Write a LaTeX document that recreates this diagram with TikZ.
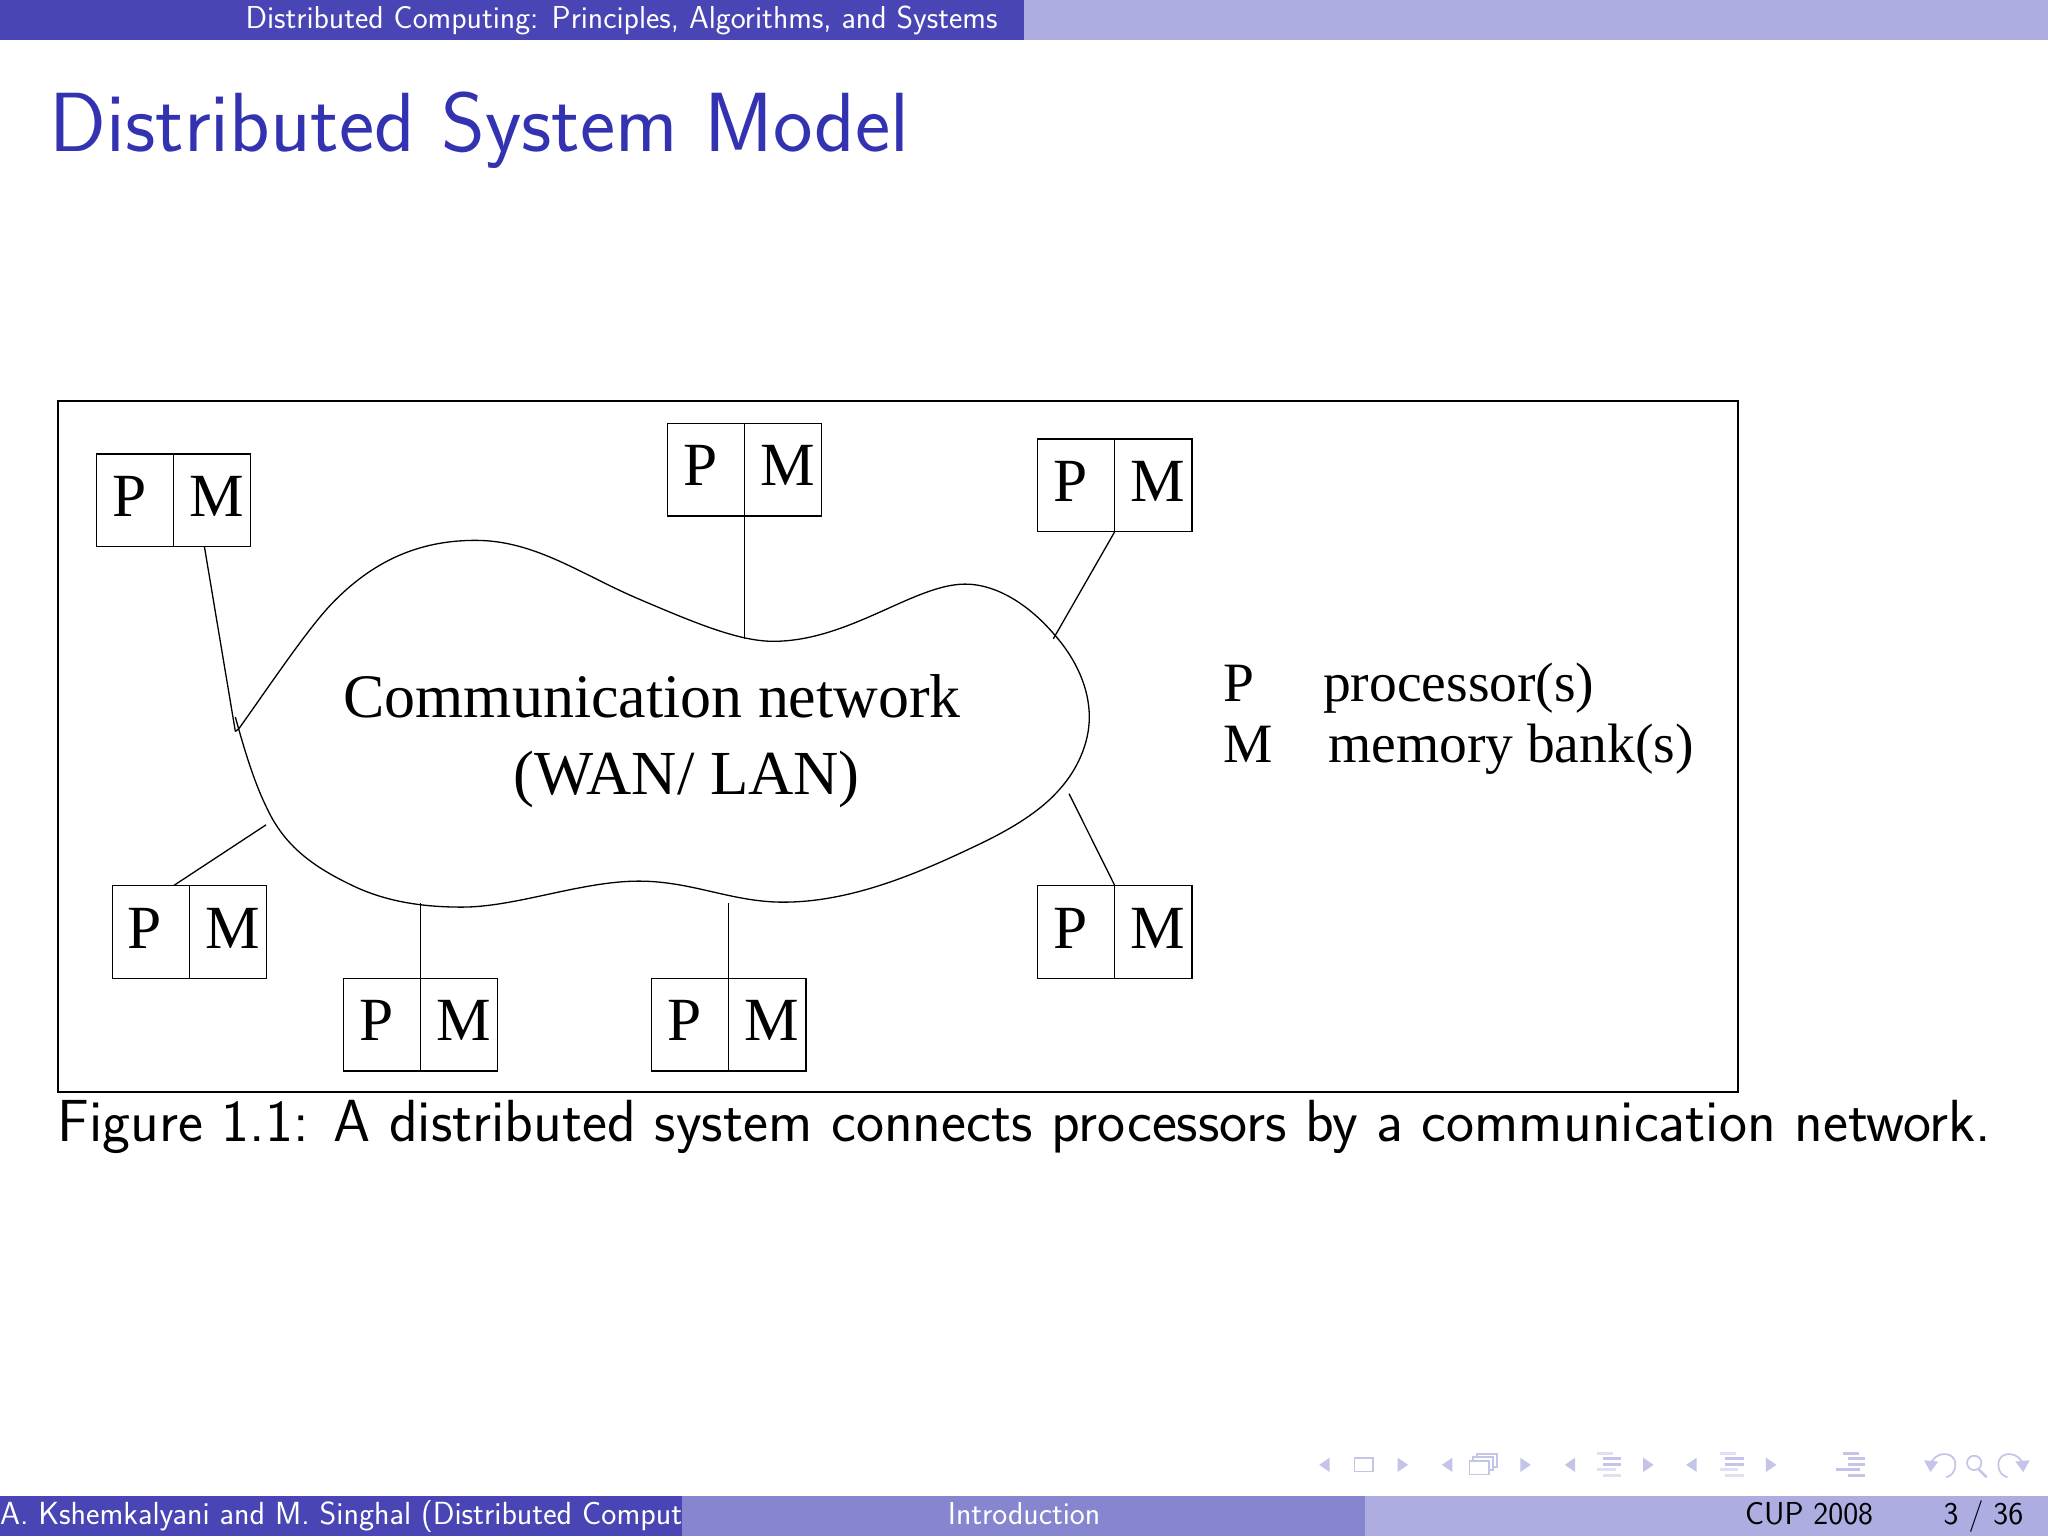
\documentclass[tikz,border=0pt]{standalone}
\usepackage{fontspec}
\setmainfont{Liberation Serif}
\usetikzlibrary{calc}
\definecolor{bardark}{HTML}{4A45B5}
\definecolor{barmid}{HTML}{8585D0}
\definecolor{barlight}{HTML}{ADADE2}
\definecolor{titleblue}{HTML}{3333B2}
\definecolor{navdark}{HTML}{C4C4E8}
\definecolor{navlight}{HTML}{E0E0F2}
\tikzset{
  x=1pt,y=-1pt,
  cell/.style={draw=black,line width=1pt,minimum width=59pt,minimum height=71pt,inner sep=0pt,outer sep=0pt,font=\fontsize{47}{47}\selectfont},
  link/.style={line width=1pt,black},
  blob/.style={line width=1pt,black},
  sftext/.style={font=\sffamily\fontsize{#1}{#1}\selectfont,inner sep=0pt,outer sep=0pt},
  sertext/.style={font=\fontsize{#1}{#1}\selectfont,inner sep=0pt,outer sep=0pt},
  nav/.style={fill=navdark,draw=none},
  navl/.style={fill=navlight,draw=none},
  navline/.style={draw=navdark,line width=1.3pt,fill=white},
}
\newcommand{\pmbox}[3]{%
  \node[cell] (#1p) at (#2,#3) {\kern-9pt\raisebox{6pt}{P}};
  \node[cell] (#1m) at (#2+59,#3) {\kern7pt\raisebox{6pt}{M}};
}
\newcommand{\navl}[1]{\fill[nav] (#1,1121.5) -- ++(8,-5.5) -- ++(0,11) -- cycle;}
\newcommand{\navr}[1]{\fill[nav] (#1,1121.5) -- ++(-8,-5.5) -- ++(0,11) -- cycle;}
\newcommand{\navbars}[1]{%
  \begin{scope}[shift={(#1,0)}]
    \fill[navl] (0,1111.5) rectangle ++(12,2.2);
    \fill[nav] (4,1115.7) rectangle ++(14,2.2);
    \fill[nav] (4,1119.9) rectangle ++(14,2.2);
    \fill[navl] (0,1124.1) rectangle ++(14,2.2);
    \fill[navl] (4,1128.3) rectangle ++(14,2.2);
  \end{scope}}
\begin{document}
\begin{tikzpicture}
\useasboundingbox (0,0) rectangle (1568,1176);
\fill[white] (0,0) rectangle (1568,1176);
% header
\fill[barlight] (0,0) rectangle (1568,31);
\fill[bardark] (0,0) rectangle (784,31);
\node[sftext=24.3,white,anchor=base west] (headtext) at (188,22) {Distributed Computing: Principles, Algorithms, and Systems};
\node[sftext=64.3,titleblue,anchor=base west] (title) at (38,116) {Distributed System Model};
% frame
\node[draw=black,line width=1.3pt,minimum width=1286pt,minimum height=529pt,inner sep=0pt,anchor=north west] (frame) at (44,306.5) {};
% PM boxes
\pmbox{a}{103.5}{383}
\pmbox{b}{540.5}{359.5}
\pmbox{c}{824}{371.5}
\pmbox{d}{115.5}{713.5}
\pmbox{e}{292.5}{784.5}
\pmbox{f}{528.5}{784.5}
\pmbox{g}{824}{713.5}
% network cloud
\coordinate (na) at (180.2,560);
\draw[blob] (180.2,549)
  .. controls (186,570) and (194,598) .. (204.5,619)
  .. controls (218,648) and (240,664) .. (272,679)
  .. controls (298,691) and (326,694.5) .. (353.8,694.5)
  .. controls (395,694.5) and (445,674.6) .. (489,674.6)
  .. controls (530,674.6) and (560,690.7) .. (599.7,690.7)
  .. controls (650,690.7) and (700,670) .. (745,648.6)
  .. controls (772,636) and (796,622) .. (811.6,603.9)
  .. controls (824,590) and (834,570) .. (834,549)
  .. controls (834,527) and (824,505) .. (807.8,486.5)
  .. controls (788,463) and (763,447.2) .. (738.9,447.2)
  .. controls (700,447.2) and (650,491) .. (592,491)
  .. controls (565,491) and (530,476) .. (490,459)
  .. controls (445,440) and (410,413.7) .. (364,413.7)
  .. controls (320,413.7) and (285,430) .. (254,462.2)
  .. controls (235,482) and (205,527) .. (182.8,558)
  -- (na);
\coordinate (nb) at (570,489);
\coordinate (nc) at (806.5,489);
\coordinate (nd) at (203.7,631.5);
\coordinate (ne) at (322,691);
\coordinate (nf) at (558,691);
\coordinate (ng) at (818.5,607.7);
\draw[link] ($(am)+(-6,35.5)$) -- (na);
\draw[link] ($(bp)!0.5!(bm)+(0,35.5)$) -- (nb);
\draw[link] ($(cp)!0.5!(cm)+(0,35.5)$) -- (nc);
\draw[link] ($(dp)+(17.5,-35.5)$) -- (nd);
\draw[link] ($(ep)!0.5!(em)+(0,-35.5)$) -- (ne);
\draw[link] ($(fp)!0.5!(fm)+(0,-35.5)$) -- (nf);
\draw[link] ($(gp)!0.5!(gm)+(0,-35.5)$) -- (ng);
% texts
\node[sertext=47.4,anchor=base west] (net1) at (263,549) {Communication network};
\node[sertext=48,anchor=base west] (net2) at (393,608) {(WAN/ LAN)};
\node[sertext=42.5,anchor=base west] (l1) at (937,537) {P};
\node[sertext=42.5,anchor=base west] (l2) at (1013,537) {processor(s)};
\node[sertext=42.5,anchor=base west] (l3) at (937,584) {M};
\node[sertext=42.5,anchor=base west] (l4) at (1017,584) {memory bank(s)};
\node[sftext=45.5,anchor=base west] (cap) at (44,874) {Figure 1.1: A distributed system connects processors by a communication network.};
% footer
\fill[barlight] (0,1145) rectangle (1568,1176);
\fill[barmid] (0,1145) rectangle (1045,1176);
\fill[bardark] (0,1145) rectangle (522,1176);
\node[sftext=24.5,white,anchor=base west] (foot1) at (0,1167) {A. Kshemkalyani and M. Singhal (Distributed Comput};
\node[sftext=24.3,white,anchor=base] (foot2) at (784,1167) {Introduction};
\node[sftext=24.3,black,anchor=base west] (foot3) at (1336,1167) {CUP 2008};
\node[sftext=24.3,black,anchor=base east] (foot4) at (1549,1167) {3 / 36};
% navigation symbols
\navl{1010}
\draw[navline] (1037,1116.5) rectangle (1051,1126.5);
\navr{1078}
\navl{1104}
\draw[navline] (1131,1113) rectangle (1146,1123);
\draw[navline] (1128,1115.5) rectangle (1143,1125.5);
\draw[navline] (1125,1118.5) rectangle (1140,1129);
\navr{1172}
\navl{1198}
\navbars{1223}
\navr{1266}
\navl{1291}
\navbars{1317}
\navr{1360}
\begin{scope}[shift={(1406,0)}]
  \fill[nav] (5,1111.5) rectangle ++(12,2.2);
  \fill[nav] (9,1115.7) rectangle ++(13,2.2);
  \fill[nav] (9,1119.9) rectangle ++(13,2.2);
  \fill[nav] (0,1124.1) rectangle ++(18,2.2);
  \fill[nav] (9,1128.3) rectangle ++(13,2.2);
\end{scope}
\draw[draw=navdark,line width=1.3pt,fill=none] (1478,1122) .. controls (1480,1111) and (1497,1110) .. (1497,1121) .. controls (1497,1127) and (1494,1130) .. (1490,1131);
\fill[nav] (1473,1118) -- (1484,1119) -- (1478,1127) -- cycle;
\draw[draw=navdark,line width=1.3pt] (1511.5,1120) circle[radius=5.5];
\draw[draw=navdark,line width=2pt] (1515,1125) -- (1521,1131);
\draw[draw=navdark,line width=1.3pt,fill=none] (1549,1122) .. controls (1547,1111) and (1530,1110) .. (1530,1121) .. controls (1530,1127) and (1533,1130) .. (1537,1131);
\fill[nav] (1554,1118) -- (1543,1119) -- (1549,1127) -- cycle;
\end{tikzpicture}
\end{document}
